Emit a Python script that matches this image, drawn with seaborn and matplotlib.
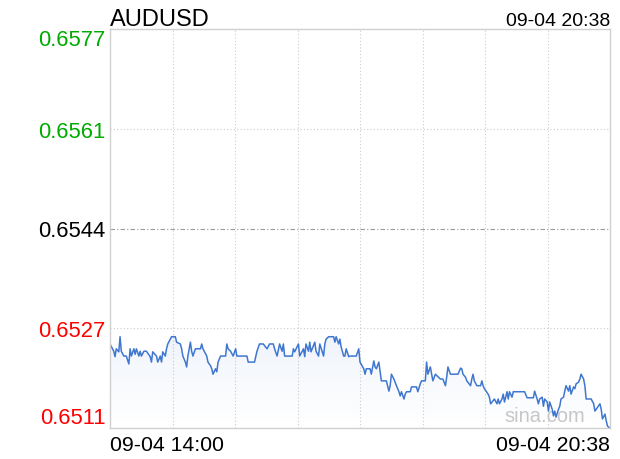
import numpy as np
import pandas as pd
import matplotlib
matplotlib.use("Agg")
import matplotlib.pyplot as plt
import seaborn as sns

# minutes after 09-04 14:00, AUDUSD price
minutes = [0, 3, 4, 5, 7, 8, 9, 11, 13, 15, 16, 17, 19, 20, 21, 23, 24, 25, 27, 29,
           32, 33, 34, 37, 38, 40, 41, 42, 44, 45, 46, 48, 49, 52, 53, 56, 57, 58, 60, 61,
           62, 64, 65, 66, 68, 72, 73, 74, 77, 78, 80, 81, 82, 84, 85, 86, 88, 92, 93, 94,
           96, 98, 100, 101, 109, 110, 115, 117, 119, 122, 125, 127, 130, 131, 133, 135, 137, 138, 139, 145,
           146, 147, 150, 151, 154, 155, 156, 158, 159, 160, 163, 164, 166, 167, 170, 171, 172, 174, 178, 179,
           180, 182, 183, 184, 186, 187, 188, 190, 191, 196, 198, 199, 202, 203, 204, 207, 208, 210, 211, 212,
           214, 215, 216, 220, 222, 223, 224, 226, 228, 230, 231, 232, 234, 235, 236, 239, 240, 244, 245, 247,
           248, 251, 252, 253, 255, 257, 259, 263, 265, 267, 268, 269, 271, 277, 279, 280, 281, 283, 284, 287,
           288, 289, 290, 292, 295, 296, 297, 298, 301, 302, 303, 306, 308, 309, 310, 312, 313, 314, 316, 317,
           318, 320, 321, 330, 332, 337, 338, 340, 341, 342, 344, 345, 346, 348, 349, 350, 352, 353, 354, 355,
           357, 358, 359, 361, 362, 363, 365, 366, 367, 369, 370, 371, 373, 374, 375, 377, 378, 379, 383, 385,
           386, 387, 390, 391, 392, 394, 395, 396, 398]
price = [0.65249, 0.65237, 0.65228, 0.65241, 0.65236, 0.65261, 0.65237, 0.65229, 0.65229, 0.65216,
         0.65241, 0.65229, 0.65241, 0.65232, 0.65241, 0.65229, 0.65237, 0.65229, 0.65237, 0.65237,
         0.65228, 0.65219, 0.65236, 0.65229, 0.65219, 0.65229, 0.65219, 0.65236, 0.65229, 0.65241,
         0.65249, 0.65257, 0.65261, 0.65261, 0.65252, 0.65249, 0.65241, 0.65229, 0.65219, 0.65211,
         0.65229, 0.65252, 0.65237, 0.65229, 0.65241, 0.65241, 0.65249, 0.65241, 0.65229, 0.65219,
         0.65213, 0.65208, 0.65199, 0.65208, 0.65203, 0.65219, 0.65229, 0.65229, 0.65249, 0.65241,
         0.65237, 0.65229, 0.65241, 0.65229, 0.65229, 0.65219, 0.65219, 0.65237, 0.65249, 0.65249,
         0.65241, 0.65249, 0.65249, 0.65241, 0.65229, 0.65249, 0.65237, 0.65249, 0.65229, 0.65229,
         0.65241, 0.65236, 0.65249, 0.65229, 0.65241, 0.65228, 0.65249, 0.65237, 0.65252, 0.65236,
         0.65252, 0.65237, 0.65229, 0.65249, 0.65229, 0.65249, 0.65257, 0.65261, 0.65261, 0.65252,
         0.65261, 0.65249, 0.65257, 0.65244, 0.65229, 0.65229, 0.65241, 0.65228, 0.65229, 0.65229,
         0.65241, 0.65219, 0.65208, 0.65199, 0.65208, 0.65208, 0.65199, 0.65221, 0.65211, 0.65208,
         0.65219, 0.65203, 0.65188, 0.65188, 0.65171, 0.65180, 0.65199, 0.65191, 0.65180, 0.65170,
         0.65163, 0.65170, 0.65158, 0.65166, 0.65170, 0.65170, 0.65178, 0.65178, 0.65170, 0.65183,
         0.65188, 0.65188, 0.65219, 0.65199, 0.65211, 0.65188, 0.65199, 0.65191, 0.65191, 0.65180,
         0.65194, 0.65211, 0.65199, 0.65199, 0.65209, 0.65208, 0.65199, 0.65194, 0.65188, 0.65180,
         0.65191, 0.65199, 0.65188, 0.65180, 0.65180, 0.65188, 0.65180, 0.65175, 0.65166, 0.65161,
         0.65150, 0.65158, 0.65150, 0.65158, 0.65150, 0.65158, 0.65166, 0.65153, 0.65170, 0.65158,
         0.65170, 0.65161, 0.65170, 0.65170, 0.65160, 0.65160, 0.65171, 0.65158, 0.65150, 0.65158,
         0.65161, 0.65146, 0.65158, 0.65153, 0.65138, 0.65153, 0.65141, 0.65130, 0.65138, 0.65128,
         0.65141, 0.65146, 0.65158, 0.65161, 0.65171, 0.65180, 0.65171, 0.65180, 0.65166, 0.65178,
         0.65175, 0.65183, 0.65186, 0.65191, 0.65199, 0.65191, 0.65180, 0.65158, 0.65158, 0.65150,
         0.65138, 0.65141, 0.65150, 0.65141, 0.65125, 0.65133, 0.65122, 0.65113, 0.65110]

y_levels = [0.6511, 0.65275, 0.6544, 0.65605, 0.6577]
y_labels = ["0.6511", "0.6527", "0.6544", "0.6561", "0.6577"]
y_colors = ["#ff0000", "#ff0000", "#000000", "#00aa00", "#00aa00"]
x_end = 398
x_labels = ["09-04 14:00", "09-04 20:38"]

df = pd.DataFrame({"minute": minutes, "price": price})

sns.set_style("white")
plt.rcParams["font.family"] = ["Liberation Sans", "DejaVu Sans"]
plt.rcParams["text.color"] = "black"
plt.rcParams["xtick.color"] = "black"

fig = plt.figure(figsize=(6.2, 4.6), dpi=100)
ax = fig.add_axes([110 / 620, 1 - 429 / 460, 500 / 620, 399 / 460])

line_col = "#3f77d0"
sns.lineplot(data=df, x="minute", y="price", ax=ax, color=line_col, linewidth=1.1)

# soft gradient under the line
poly = ax.fill_between(df["minute"], df["price"], y_levels[0], color="none", lw=0)
grad = np.zeros((256, 1, 4))
grad[..., :3] = matplotlib.colors.to_rgb(line_col)
grad[:, 0, 3] = np.linspace(0.08, 0.0, 256)
im = ax.imshow(grad, extent=[0, x_end, y_levels[0], max(price)], origin="upper",
               aspect="auto", zorder=1)
im.set_clip_path(poly.get_paths()[0], transform=ax.transData)

ax.set_xlim(0, x_end)
ax.set_ylim(y_levels[0], y_levels[-1])

# grid
for xv in np.linspace(0, x_end, 9)[1:-1]:
    ax.axvline(xv, color="#cccccc", lw=0.8, ls=(0, (1, 2)), zorder=0)
for yv in (y_levels[1], y_levels[3]):
    ax.axhline(yv, color="#cccccc", lw=0.8, ls=(0, (1, 2)), zorder=0)
ax.axhline(y_levels[2], color="#999999", lw=0.8, ls=(0, (4, 2, 1, 2)), zorder=0)

for s in ax.spines.values():
    s.set_color("#d0d0d0")
    s.set_linewidth(1)

ax.set_yticks(y_levels)
ax.set_yticklabels(y_labels, fontsize=15.8)
ticks = ax.get_yticklabels()
for t, c in zip(ticks, y_colors):
    t.set_color(c)
ticks[0].set_va("bottom")
ticks[-1].set_va("top")
ax.tick_params(axis="y", length=0, pad=3)

ax.set_xticks([0, x_end])
ax.set_xticklabels(x_labels, fontsize=15.3)
xt = ax.get_xticklabels()
xt[0].set_ha("left")
xt[1].set_ha("right")
ax.tick_params(axis="x", length=0, pad=5)
ax.set_xlabel("")
ax.set_ylabel("")

fig.text(110 / 620, 1 - 26 / 460, "AUDUSD", fontsize=17, ha="left", va="baseline")
fig.text(610 / 620, 1 - 26 / 460, "09-04 20:38", fontsize=14, ha="right", va="baseline")
ax.text(0.95, 0.018, "sina.com", transform=ax.transAxes, fontsize=14.5,
        color="#c8c8c8", ha="right", va="baseline", zorder=0)

fig.savefig("out.png", dpi=100)
